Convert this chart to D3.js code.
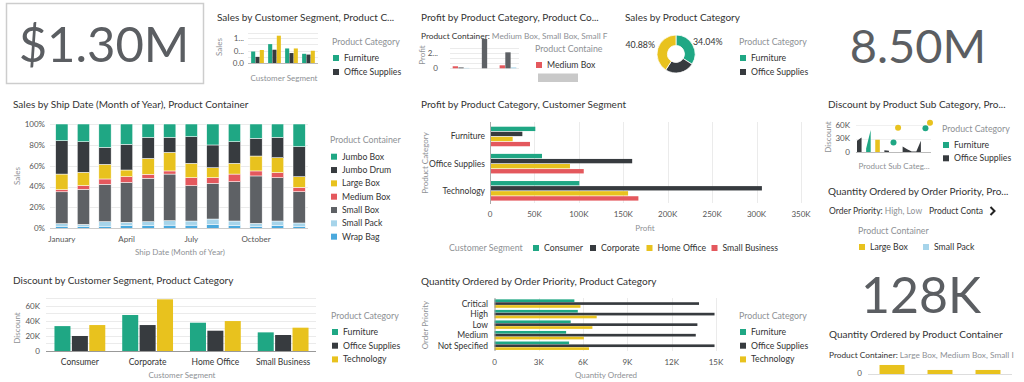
<!DOCTYPE html>
<html><head><meta charset="utf-8">
<script src="https://cdn.jsdelivr.net/npm/d3@7"></script>
<style>
body{margin:0;background:#fff;}
svg{display:block;font-family:Lato,"Open Sans",sans-serif;}
</style></head><body>
<svg id="c" width="1024" height="382"></svg>
<script>
// ---------- DATA ----------
const kpiSales = "$1.30M";
const kpiTop = "8.50M";
const kpiQty = "128K";
const segments = ["Consumer","Corporate","Home Office","Small Business"];
const categories = ["Furniture","Office Supplies","Technology"];
// Sales by Customer Segment (millions)
const salesFurniture = [0.47,0.76,0.59,0.38];
const salesOffice = [0.26,0.54,0.41,0.35];
const salesTech = [0.53,1.09,0.59,0.50];
const salesTickVals = [0,0.5,1];
const salesTickLabels = ["0.0","0...","1..."];
// Profit by Product Category, Product Container
const pcContainers = ["Medium Box","Small Box","Small Pack"];
const pcMedium = [27000,0,40000];
const pcSmallBox = [12000,391000,213000];
const pcSmallPack = [5000,0,12000];
const pcTickVals = [0,200000];
const pcTickLabels = ["0","2..."];
const pcFilterText = " Medium Box, Small Box, Small F";
// Sales by Product Category (share %)
const shareValues = [34.04,25.08,40.88];
const shareLabels = ["34.04%",null,"40.88%"];
// Sales by Ship Date, Product Container (% of month)
const months = ["January","February","March","April","May","June","July","August","September","October","November","December"];
const monthTicks = ["January","April","July","October"];
const containers = ["Wrap Bag","Small Pack","Small Box","Medium Box","Large Box","Jumbo Drum","Jumbo Box"];
const wrapBag   = [2,1.5,2,2.5,2.5,3,3,3.5,2.5,2,2.5,2];
const smallPack = [2.5,2.3,4.4,3.3,3.9,4.3,4,5.4,4.5,2.8,4.5,3.1];
const smallBox  = [30.5,33.6,35.8,38.2,41.6,44.7,33.9,34.2,37.7,45.4,41.6,30];
const mediumBox = [2,3.6,5.1,5.5,3.8,3,7.7,5.5,7.3,4.8,4.8,4.2];
const largeBox  = [15,12.7,14,6.4,15.2,17.8,13.7,9.5,10.3,14.3,14.3,10.2];
const jumboDrum = [32,29.3,16.3,24.6,20.2,14.4,25.6,21.8,20.7,17,19.5,28.8];
const jumboBox  = [16,17,22.4,19.5,12.8,12.8,12.1,20.1,17,13.7,12.8,21.7];
// Profit by Product Category, Customer Segment
const profitConsumer = [51000,58500,100500];
const profitCorporate = [36400,160000,306000];
const profitHome = [25500,90000,155400];
const profitSmallBiz = [45000,105500,167000];
const profitTicks = [0,50000,100000,150000,200000,250000,300000,350000];
// Discount by Product Sub Category (null = not in category)
const subCategories = ["Appliances","Binders and Binder Accessories","Bookcases","Chairs & Chairmats","Computer Peripherals","Copiers and Fax","Envelopes","Labels","Office Furnishings","Office Machines","Paper","Pens & Art Supplies","Rubber Bands","Scissors, Rulers and Trimmers","Storage & Organization","Tables","Telephones and Communication"];
const subFurniture = [null,null,8000,49000,null,null,null,null,21000,null,null,null,null,null,null,53000,null];
const subOffice = [25000,32000,null,null,null,null,4000,3000,null,null,12000,6000,1000,1000,25000,null,null];
const subTech = [null,null,null,null,27000,27000,null,null,null,54000,null,null,null,null,null,null,65000];
const subTicks = [0,30000,60000];
// Discount by Customer Segment, Product Category
const discFurniture = [33000,47700,37500,24700];
const discOffice = [19900,34400,26900,21200];
const discTech = [34400,68500,39700,30900];
const discTicks = [0,20000,40000,60000];
// Quantity Ordered by Order Priority, Product Category
const priorities = ["Critical","High","Low","Medium","Not Specified"];
const qtyFurniture = [5410,5640,5160,4850,5050];
const qtyOffice = [13850,14900,13740,13630,14900];
const qtyTech = [5820,6920,6630,6050,6400];
const qtyTicks = [0,3000,6000,9000,12000,15000];
// Quantity Ordered by Product Container
const qcContainers = ["Large Box","Medium Box","Small Box"];
const qcValues = [38000,17000,17000];
const qcFilterText = " Large Box, Medium Box, Small I";

// ---------- STYLE ----------
const COL = {f:"#1fa784", o:"#373b3f", t:"#e8c21e", red:"#e4585d", sbox:"#5e6165", spack:"#a6d4ea", wrap:"#4aa9dd"};
const catColors = [COL.f, COL.o, COL.t];
const segColors = [COL.f, COL.o, COL.t, COL.red];
const contColors = {"Wrap Bag":COL.wrap,"Small Pack":COL.spack,"Small Box":COL.sbox,"Medium Box":COL.red,"Large Box":COL.t,"Jumbo Drum":COL.o,"Jumbo Box":COL.f};
const TXT="#333", GREY="#8e9195", TICK="#555", GRID="#ebebeb";
const svg = d3.select("#c");
const kfmt = d => d===0 ? "0" : (d/1000)+"K";

function text(x,y,s,size,fill,anchor,weight){
  return svg.append("text").attr("x",x).attr("y",y).attr("dy","0.35em")
    .attr("font-size",size).attr("fill",fill||TXT).attr("text-anchor",anchor||"start")
    .attr("font-weight",weight||400).text(s);
}
function vtext(x,y,s,size,fill){
  return svg.append("text").attr("transform",`translate(${x},${y}) rotate(-90)`).attr("dy","0.35em")
    .attr("text-anchor","middle").attr("font-size",size).attr("fill",fill||GREY).text(s);
}
function title(x,y,s){ return text(x,y,s,10,"#333"); }
function legendV(x,y,ttl,labels,colors,off,step){
  text(x,y,ttl,8.8,GREY);
  labels.forEach((l,i)=>{
    const yy = y+off+step*i;
    svg.append("rect").attr("x",x+1).attr("y",yy-3).attr("width",6).attr("height",6).attr("fill",colors[i]);
    text(x+12,yy,l,8.7,TXT);
  });
}
function hgrid(vals, y, x1, x2, color){
  svg.append("g").selectAll("line").data(vals).join("line")
    .attr("x1",x1).attr("x2",x2).attr("y1",d=>Math.round(y(d))+0.5).attr("y2",d=>Math.round(y(d))+0.5)
    .attr("stroke",color||GRID);
}
function vgrid(vals, x, y1, y2, color){
  svg.append("g").selectAll("line").data(vals).join("line")
    .attr("y1",y1).attr("y2",y2).attr("x1",d=>Math.round(x(d))+0.5).attr("x2",d=>Math.round(x(d))+0.5)
    .attr("stroke",color||GRID);
}

// ---------- 1. KPI $1.30M ----------
svg.append("rect").attr("x",6.5).attr("y",3.5).attr("width",197).attr("height",80).attr("fill","none").attr("stroke","#cdcdcd").attr("stroke-width",1.5);
text(104,45,kpiSales,49,"#5b5e62","middle");

// ---------- 2. Sales by Customer Segment ----------
title(217,17,"Sales by Customer Segment, Product C...");
{
  const x0 = d3.scaleBand().domain(segments).range([248,318]).paddingInner(0.22).paddingOuter(0.17);
  const x1 = d3.scaleBand().domain(categories).range([0,x0.bandwidth()]).padding(0.06);
  const y = d3.scaleLinear().domain([0,1.2]).range([63.5,32.9]);
  hgrid([0.25,0.5,0.75,1,1.2],y,248,318);
  const series=[salesFurniture,salesOffice,salesTech];
  series.forEach((arr,k)=>{
    svg.append("g").selectAll("rect").data(arr).join("rect")
      .attr("x",(d,i)=>x0(segments[i])+x1(categories[k])).attr("width",x1.bandwidth())
      .attr("y",d=>y(d)).attr("height",d=>y(0)-y(d)).attr("fill",catColors[k]);
  });
  svg.append("line").attr("x1",248).attr("x2",318).attr("y1",63.5).attr("y2",63.5).attr("stroke","#bbb");
  salesTickVals.forEach((v,i)=>text(244,y(v),salesTickLabels[i],8,TICK,"end"));
  vtext(219,47,"Sales",8);
  text(284,78,"Customer Segment",8,GREY,"middle");
  legendV(332,42,"Product Category",categories.slice(0,2),catColors,16,14);
}

// ---------- 3. Profit by Product Category, Product Container ----------
title(421,17,"Profit by Product Category, Product Co...");
{
  const t = svg.append("text").attr("x",421).attr("y",36).attr("dy","0.35em").attr("font-size",8.3);
  t.append("tspan").attr("fill",TXT).text("Product Container:");
  t.append("tspan").attr("fill",GREY).text(pcFilterText);
  const x0 = d3.scaleBand().domain(categories).range([450,519]).paddingInner(0.26).paddingOuter(0.1);
  const x1 = d3.scaleBand().domain(pcContainers).range([0,x0.bandwidth()]).padding(0.06);
  const y = d3.scaleLinear().domain([0,400000]).range([68.3,38.3]);
  hgrid(d3.range(0,5).map(i=>i*200000/3),y,450,519);
  const series=[pcMedium,pcSmallBox,pcSmallPack], cols=[COL.red,COL.sbox,COL.spack];
  series.forEach((arr,k)=>{
    svg.append("g").selectAll("rect").data(arr).join("rect")
      .attr("x",(d,i)=>x0(categories[i])+x1(pcContainers[k])).attr("width",x1.bandwidth())
      .attr("y",d=>y(d)).attr("height",d=>y(0)-y(d)).attr("fill",cols[k]);
  });
  pcTickVals.forEach((v,i)=>text(438,y(v),pcTickLabels[i],8,TICK,"end"));
  vtext(422,55,"Profit",8);
  text(535,49,"Product Containe",8.8,GREY);
  svg.append("rect").attr("x",536).attr("y",62).attr("width",6).attr("height",6).attr("fill",COL.red);
  text(547,65,pcContainers[0],8.7,TXT);
  svg.append("rect").attr("x",538).attr("y",73.5).attr("width",40).attr("height",8.5).attr("fill","#c9c9c9");
}

// ---------- 4. Sales by Product Category (donut) ----------
title(625,17,"Sales by Product Category");
{
  const cx=676, cy=54;
  const pie = d3.pie().sort(null)(shareValues);
  const arc = d3.arc().innerRadius(8.5).outerRadius(19);
  svg.append("g").attr("transform",`translate(${cx},${cy})`).selectAll("path").data(pie).join("path")
    .attr("d",arc).attr("fill",(d,i)=>catColors[i]).attr("stroke","#fff").attr("stroke-width",0.8);
  pie.forEach((p,i)=>{
    if(!shareLabels[i]) return;
    const mid=(p.startAngle+p.endAngle)/2;
    const right = Math.sin(mid)>0;
    text(right?cx+17:cx-21, right?cy-12:cy-9, shareLabels[i], 8.8, TXT, right?"start":"end");
  });
  legendV(739,42,"Product Category",categories.slice(0,2),catColors,16,14);
}

// ---------- 5. KPI 8.50M ----------
text(918,47,kpiTop,47,"#5b5e62","middle");

// ---------- 6. Sales by Ship Date (stacked 100%) ----------
title(13,104,"Sales by Ship Date (Month of Year), Product Container");
{
  const cols = {"Wrap Bag":wrapBag,"Small Pack":smallPack,"Small Box":smallBox,"Medium Box":mediumBox,"Large Box":largeBox,"Jumbo Drum":jumboDrum,"Jumbo Box":jumboBox};
  const rows = months.map((m,i)=>{const r={month:m}; containers.forEach(c=>r[c]=cols[c][i]); return r;});
  const stacked = d3.stack().keys(containers).offset(d3.stackOffsetExpand)(rows);
  const x = d3.scaleBand().domain(months).range([49,312]).paddingInner(0.43).paddingOuter(0.31);
  const y = d3.scaleLinear().domain([0,1]).range([228.3,124]);
  hgrid([0.2,0.4,0.6,0.8,1],y,50,308);
  stacked.forEach(s=>{
    svg.append("g").selectAll("rect").data(s).join("rect")
      .attr("x",d=>x(d.data.month)).attr("width",x.bandwidth())
      .attr("y",d=>y(d[1])).attr("height",d=>y(d[0])-y(d[1]))
      .attr("fill",contColors[s.key]).attr("stroke","#fff").attr("stroke-width",0.5);
  });
  svg.append("line").attr("x1",50).attr("x2",308).attr("y1",228.5).attr("y2",228.5).attr("stroke","#ccc");
  [0,0.2,0.4,0.6,0.8,1].forEach(v=>text(45,y(v),d3.format(".0%")(v),8,TICK,"end"));
  monthTicks.forEach(m=>text(x(m)+x.bandwidth()/2,239,m,8,TICK,"middle"));
  text(180,252,"Ship Date (Month of Year)",8,GREY,"middle");
  vtext(17,176,"Sales",8);
  const order = containers.slice().reverse();
  legendV(330,140,"Product Container",order,order.map(c=>contColors[c]),16.7,13.33);
}

// ---------- 7. Profit by Product Category, Customer Segment ----------
title(421,104,"Profit by Product Category, Customer Segment");
{
  const y0 = d3.scaleBand().domain(categories).range([122.9,204.4]).paddingInner(0.28).paddingOuter(0.14);
  const y1 = d3.scaleBand().domain(segments).range([0,y0.bandwidth()]).paddingInner(0.14);
  const x = d3.scaleLinear().domain([0,350000]).range([490,801]);
  vgrid(profitTicks.slice(1),x,122,203);
  const series=[profitConsumer,profitCorporate,profitHome,profitSmallBiz];
  series.forEach((arr,k)=>{
    svg.append("g").selectAll("rect").data(arr).join("rect")
      .attr("y",(d,i)=>y0(categories[i])+y1(segments[k])).attr("height",y1.bandwidth())
      .attr("x",x(0)).attr("width",d=>x(d)-x(0)).attr("fill",segColors[k]);
  });
  svg.append("line").attr("x1",490.5).attr("x2",490.5).attr("y1",122).attr("y2",204).attr("stroke","#aaa");
  profitTicks.forEach(v=>text(x(v),214,kfmt(v),8,TICK,"middle"));
  categories.forEach(c=>text(485,y0(c)+y0.bandwidth()/2,c,8.5,TXT,"end"));
  text(645,228,"Profit",8,GREY,"middle");
  vtext(425,163,"Product Category",8);
  const ly=248;
  text(449,ly,"Customer Segment",8.8,GREY);
  const pos=[533,590,646.5,711.5];
  segments.forEach((s,i)=>{
    svg.append("rect").attr("x",pos[i]).attr("y",ly-3).attr("width",6).attr("height",6).attr("fill",segColors[i]);
    text(pos[i]+11,ly,s,8.7,TXT);
  });
}

// ---------- 8. Discount by Product Sub Category ----------
title(828,104,"Discount by Product Sub Category, Pro...");
{
  const x = d3.scalePoint().domain(subCategories).range([857,930]);
  const y = d3.scaleLinear().domain([0,60000]).range([152,125]);
  hgrid([30000,60000],y,856,931,"#f0f0f0");
  const series=[subOffice,subFurniture,subTech], cols=[COL.o,COL.f,COL.t];
  series.forEach((arr,k)=>{
    const pts = arr.map((v,i)=>({i,v}));
    const area = d3.area().defined(d=>d.v!=null).x(d=>x(subCategories[d.i])).y0(y(0)).y1(d=>y(d.v));
    svg.append("path").datum(pts).attr("d",area).attr("fill",cols[k]);
    const iso = pts.filter(d=>d.v!=null && (d.i===0||arr[d.i-1]==null) && (d.i===arr.length-1||arr[d.i+1]==null));
    svg.append("g").selectAll("circle").data(iso).join("circle")
      .attr("cx",d=>x(subCategories[d.i])).attr("cy",d=>y(d.v)).attr("r",3).attr("fill",cols[k]);
  });
  svg.append("line").attr("x1",856).attr("x2",931).attr("y1",152.5).attr("y2",152.5).attr("stroke","#bbb");
  subTicks.forEach(v=>text(850,y(v),kfmt(v),8,TICK,"end"));
  vtext(828,137,"Discount",8);
  text(894,166,"Product Sub Categ...",8,GREY,"middle");
  legendV(942,129,"Product Category",categories.slice(0,2),catColors,16,13.3);
}

// ---------- 9. Quantity Ordered by Order Priority, Pro... (filter panel) ----------
title(828,191,"Quantity Ordered by Order Priority, Pro...");
{
  const t = svg.append("text").attr("x",829).attr("y",211).attr("dy","0.35em").attr("font-size",8.5);
  t.append("tspan").attr("fill",TXT).text("Order Priority:");
  t.append("tspan").attr("fill",GREY).text(" High, Low");
  text(929,211,"Product Conta",8.5,TXT);
  svg.append("path").attr("d","M990.5,207 L994.5,211 L990.5,215").attr("fill","none").attr("stroke","#222").attr("stroke-width",2);
  text(858,231,"Product Container",8.8,GREY);
  const items=[["Large Box",COL.t,858],["Small Pack",COL.spack,922]];
  items.forEach(([l,c,xx])=>{
    svg.append("rect").attr("x",xx+1).attr("y",244).attr("width",6).attr("height",6).attr("fill",c);
    text(xx+12,247,l,8.7,TXT);
  });
}

// ---------- 10. Discount by Customer Segment, Product Category ----------
title(13,280,"Discount by Customer Segment, Product Category");
{
  const x0 = d3.scaleBand().domain(segments).range([46,317]).paddingInner(0.25).paddingOuter(0.125);
  const x1 = d3.scaleBand().domain(categories).range([0,x0.bandwidth()]).paddingInner(0.08);
  const y = d3.scaleLinear().domain([0,70000]).range([351,298.2]);
  hgrid([10000,20000,30000,40000,50000,60000,70000],y,46,316);
  const series=[discFurniture,discOffice,discTech];
  series.forEach((arr,k)=>{
    svg.append("g").selectAll("rect").data(arr).join("rect")
      .attr("x",(d,i)=>x0(segments[i])+x1(categories[k])).attr("width",x1.bandwidth())
      .attr("y",d=>y(d)).attr("height",d=>y(0)-y(d)).attr("fill",catColors[k]);
  });
  svg.append("line").attr("x1",46).attr("x2",316).attr("y1",351.5).attr("y2",351.5).attr("stroke","#999");
  discTicks.forEach(v=>text(40,y(v),kfmt(v),8,TICK,"end"));
  segments.forEach(s=>text(x0(s)+x0.bandwidth()/2,362,s,8.5,TXT,"middle"));
  text(182,375,"Customer Segment",8,GREY,"middle");
  vtext(17,328,"Discount",8);
  legendV(331,316,"Product Category",categories,catColors,16,13.7);
}

// ---------- 11. Quantity Ordered by Order Priority, Product Category ----------
title(421,281,"Quantity Ordered by Order Priority, Product Category");
{
  const y0 = d3.scaleBand().domain(priorities).range([298.3,351]).paddingInner(0.2).paddingOuter(0.1);
  const y1 = d3.scaleBand().domain(categories).range([0,y0.bandwidth()]).paddingInner(0.08);
  const x = d3.scaleLinear().domain([0,15000]).range([494.5,716]);
  vgrid(qtyTicks.slice(1),x,298,351);
  const series=[qtyFurniture,qtyOffice,qtyTech];
  series.forEach((arr,k)=>{
    svg.append("g").selectAll("rect").data(arr).join("rect")
      .attr("y",(d,i)=>y0(priorities[i])+y1(categories[k])).attr("height",y1.bandwidth())
      .attr("x",x(0)).attr("width",d=>x(d)-x(0)).attr("fill",catColors[k]);
  });
  svg.append("line").attr("x1",495).attr("x2",495).attr("y1",298).attr("y2",351).attr("stroke","#999");
  qtyTicks.forEach(v=>text(x(v),362,kfmt(v),8,TICK,"middle"));
  priorities.forEach(p=>text(488,y0(p)+y0.bandwidth()/2,p,8.5,TXT,"end"));
  text(606,375,"Quantity Ordered",8,GREY,"middle");
  vtext(425,325,"Order Priority",8);
  legendV(739,316,"Product Category",categories,catColors,16,13.7);
}

// ---------- 12. KPI 128K ----------
text(921,295,kpiQty,50,"#5b5e62","middle");

// ---------- 13. Quantity Ordered by Product Container ----------
title(829,334,"Quantity Ordered by Product Container");
{
  const t = svg.append("text").attr("x",829).attr("y",355).attr("dy","0.35em").attr("font-size",8.3);
  t.append("tspan").attr("fill",TXT).text("Product Container:");
  t.append("tspan").attr("fill",GREY).text(qcFilterText);
  const x = d3.scaleBand().domain(qcContainers).range([868,1012]).paddingInner(0.48).paddingOuter(0.24);
  const y = d3.scaleLinear().domain([0,40000]).range([374,364.5]);
  svg.append("g").selectAll("rect").data(qcValues).join("rect")
    .attr("x",(d,i)=>x(qcContainers[i])).attr("width",x.bandwidth())
    .attr("y",d=>y(d)).attr("height",d=>y(0)-y(d)).attr("fill",COL.t);
  svg.append("line").attr("x1",868).attr("x2",1012).attr("y1",374.5).attr("y2",374.5).attr("stroke","#ddd");
  text(862,373,"0",8,TICK,"end");
}
</script>
</body></html>
